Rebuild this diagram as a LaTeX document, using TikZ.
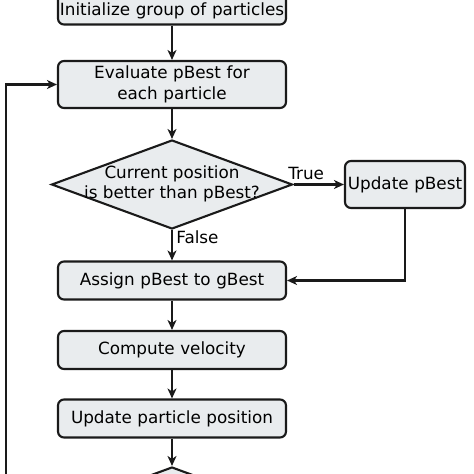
\documentclass[tikz,border=0pt]{standalone}
\usepackage{fontspec}
\setmainfont{DejaVu Sans}
\usepackage{tikz}
\usepackage{xcolor}
\usetikzlibrary{shapes.geometric, arrows.meta, positioning}
\definecolor{boxgray}{RGB}{233,236,238}
\definecolor{inkblack}{RGB}{26,26,26}
\tikzstyle{block} = [rectangle, draw=inkblack, fill=boxgray, text width=228pt,
    text centered, rounded corners=6pt, minimum height=38pt, inner sep=0pt]
\tikzstyle{decision} = [diamond, draw=inkblack, fill=boxgray, inner sep=0pt,
    minimum width=241pt, minimum height=89pt]
\tikzstyle{line} = [draw=inkblack, -{Stealth[length=10pt, width=9pt, inset=3pt]}]

\begin{document}
\begin{tikzpicture}[node distance = 80pt, auto, line width=2.1pt,
	font=\fontsize{16.8}{20.5}\selectfont]
	\clip (0,0) rectangle (474pt,-474pt);
	\node [block, text height=22pt, text depth=3pt] (Init) at (172pt,-5.5pt)
		{Initialize group of particles};
	\node [block, below of=Init, node distance=79pt, minimum height=47pt]
		(Evaluate) {Evaluate pBest for\\each particle};
	\node [decision, below of=Evaluate, node distance=100pt] (Decision)
		{\makebox[0pt]{\begin{tabular}{@{}c@{}}Current position\\[-1pt]
		is better than pBest?\end{tabular}}};
	\node [block, right of=Decision, node distance=233pt, text width=120pt,
		minimum height=47pt] (Update_pBest) {Update pBest};
	\node [block, below of=Decision, node distance=96pt] (Assign)
		{Assign pBest to gBest};
	\node [block, below of=Assign, node distance=69.5pt] (Velocity)
		{Compute velocity};
	\node [block, below of=Velocity, node distance=68.5pt] (Position)
		{Update particle position};
	\node [decision, below of=Position, node distance=93pt] (Stop) {};
	\path [line] (Init) -- (Evaluate);
	\path [line] (Evaluate) -- (Decision);
	\path [line] (Decision) -- node
		[near start, above] {True} (Update_pBest);
	\path [line] (Decision) -- node
		[near start, right] {False} (Assign);
	\path [line] (Update_pBest.south) |- (Assign.east);
	\path [line] (Assign) -- (Velocity);
	\path [line] (Velocity) -- (Position);
	\path [line] (Position) -- (Stop);
	\path [line] (Stop.west) --++ (-44.5pt,0pt) |- (Evaluate.west);
\end{tikzpicture}
\end{document}
